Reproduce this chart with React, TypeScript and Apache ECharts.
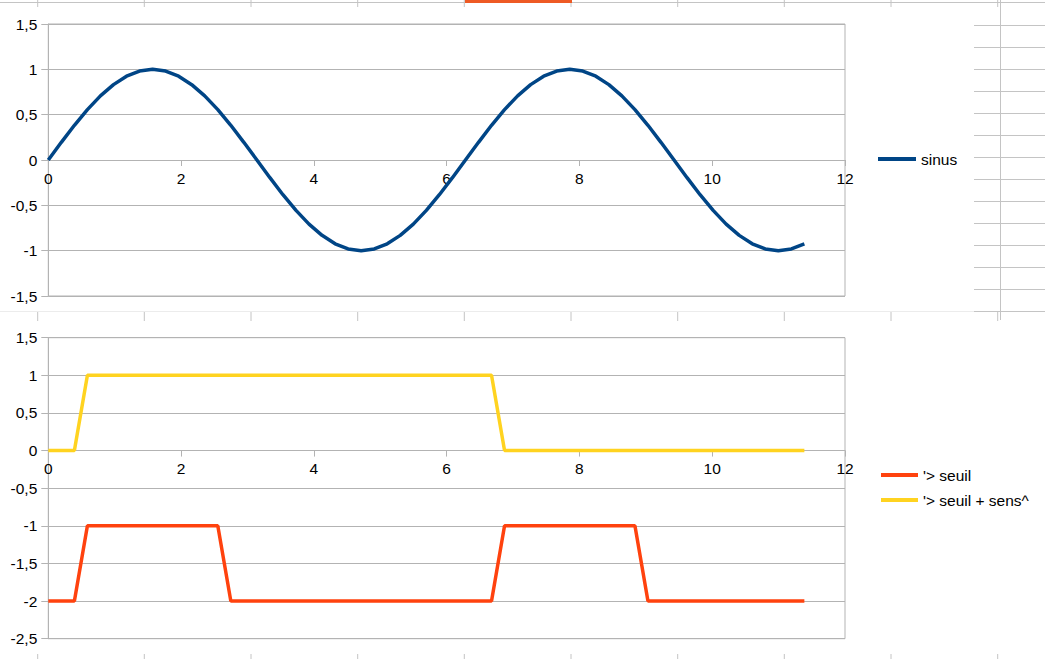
import React, { useEffect, useRef } from "react";
import * as echarts from "echarts";

const xValues = [
  0, 0.196, 0.393, 0.589, 0.785, 0.982, 1.178, 1.374, 1.571, 1.767, 1.963, 2.16, 2.356, 2.553, 2.749, 2.945,
  3.142, 3.338, 3.534, 3.731, 3.927, 4.123, 4.32, 4.516, 4.712, 4.909, 5.105, 5.301, 5.498, 5.694, 5.89, 6.087,
  6.283, 6.48, 6.676, 6.872, 7.069, 7.265, 7.461, 7.658, 7.854, 8.05, 8.247, 8.443, 8.639, 8.836, 9.032, 9.228,
  9.425, 9.621, 9.817, 10.014, 10.21, 10.407, 10.603, 10.799, 10.996, 11.192, 11.388,
];

const sinus = [
  0, 0.195, 0.383, 0.556, 0.707, 0.831, 0.924, 0.981, 1, 0.981, 0.924, 0.831, 0.707, 0.556, 0.383, 0.195,
  0, -0.195, -0.383, -0.556, -0.707, -0.831, -0.924, -0.981, -1, -0.981, -0.924, -0.831, -0.707, -0.556, -0.383, -0.195,
  0, 0.195, 0.383, 0.556, 0.707, 0.831, 0.924, 0.981, 1, 0.981, 0.924, 0.831, 0.707, 0.556, 0.383, 0.195,
  0, -0.195, -0.383, -0.556, -0.707, -0.831, -0.924, -0.981, -1, -0.981, -0.924,
];

const seuil = [
  -2, -2, -2,
  -1, -1, -1, -1, -1, -1, -1, -1, -1, -1, -1,
  -2, -2, -2, -2, -2, -2, -2, -2, -2, -2, -2, -2, -2, -2, -2, -2, -2, -2, -2, -2, -2,
  -1, -1, -1, -1, -1, -1, -1, -1, -1, -1, -1,
  -2, -2, -2, -2, -2, -2, -2, -2, -2, -2, -2, -2, -2,
];

const seuilSens = [
  0, 0, 0,
  1, 1, 1, 1, 1, 1, 1, 1, 1, 1, 1, 1, 1, 1, 1, 1, 1, 1, 1, 1, 1, 1, 1, 1, 1, 1, 1, 1, 1, 1, 1, 1,
  0, 0, 0, 0, 0, 0, 0, 0, 0, 0, 0, 0, 0, 0, 0, 0, 0, 0, 0, 0, 0, 0, 0, 0,
];

const SERIES_NAMES = ["sinus", "'> seuil", "'> seuil + sens^"];
const COLORS = ["#004586", "#ff420e", "#ffd320"];

const FONT = "Liberation Sans";
const FS = 15.5;
const GRID_COLOR = "#b3b3b3";

const fmt = (v: number) => String(v).replace(".", ",");

function pairs(ys: number[]) {
  return ys.map((y, i) => [xValues[i], y]);
}

function sheetGraphics() {
  const els: any[] = [];
  const cols = [37.7, 144.3, 251, 357.7, 464.3, 571, 677.7, 784.3, 891, 997.7];
  const stroke = { stroke: "#c4c4c4", lineWidth: 1 };
  els.push({ type: "line", shape: { x1: 0, y1: 2.5, x2: 1045, y2: 2.5 }, style: stroke, z: -10 });
  els.push({ type: "rect", shape: { x: 465, y: 0, width: 107, height: 3 }, style: { fill: "#ee5a24" }, z: -9 });
  cols.forEach((x) => {
    els.push({ type: "line", shape: { x1: x, y1: 0, x2: x, y2: 7 }, style: stroke, z: -10 });
    els.push({ type: "line", shape: { x1: x, y1: 312, x2: x, y2: 321 }, style: stroke, z: -10 });
    els.push({ type: "line", shape: { x1: x, y1: 654, x2: x, y2: 659 }, style: stroke, z: -10 });
  });
  els.push({ type: "line", shape: { x1: 0, y1: 311.5, x2: 974, y2: 311.5 }, style: { stroke: "#ececec", lineWidth: 1 }, z: -10 });
  els.push({ type: "line", shape: { x1: 1000.5, y1: 0, x2: 1000.5, y2: 320 }, style: stroke, z: -10 });
  for (let k = 0; k < 14; k++) {
    const y = 25.5 + 22 * k;
    els.push({ type: "line", shape: { x1: 974, y1: y, x2: 1045, y2: y }, style: stroke, z: -10 });
  }
  return els;
}

// grid geometry
const G1 = { left: 48.3, top: 24, width: 796.7, height: 272 };
const G2 = { left: 48.3, top: 337.7, width: 796.7, height: 301 };

export default function App() {
  const ref = useRef<HTMLDivElement>(null);

  useEffect(() => {
    if (!ref.current) return;
    const chart = echarts.init(ref.current, null, { renderer: "svg" });

    // distance from the bottom edge of the grid to the zero line (negative offset = inward)
    const zeroOffset = (h: number, min: number, max: number) => -(h * (0 - min)) / (max - min);

    const xAxisBase = (gridIndex: number, offset: number) => ({
      type: "value",
      gridIndex,
      min: 0,
      max: 12,
      interval: 2,
      position: "bottom",
      offset,
      axisLine: { show: true, onZero: false, lineStyle: { color: GRID_COLOR, width: 1 } },
      axisTick: { show: true, inside: false, length: 6, lineStyle: { color: GRID_COLOR } },
      axisLabel: { color: "#000", fontFamily: FONT, fontSize: FS, margin: 10, formatter: fmt },
      splitLine: { show: false },
    });

    const yAxisBase = (gridIndex: number, min: number, max: number) => ({
      type: "value",
      gridIndex,
      min,
      max,
      interval: 0.5,
      axisLine: { show: true, onZero: false, lineStyle: { color: GRID_COLOR, width: 1 } },
      axisTick: { show: true, length: 7, lineStyle: { color: GRID_COLOR } },
      axisLabel: { color: "#000", fontFamily: FONT, fontSize: FS, margin: 11, formatter: fmt },
      splitLine: { show: true, lineStyle: { color: GRID_COLOR, width: 1 } },
    });

    const lineSeries = (idx: number, xIdx: number, data: number[]) => ({
      type: "line",
      name: SERIES_NAMES[idx],
      xAxisIndex: xIdx,
      yAxisIndex: xIdx,
      data: pairs(data),
      showSymbol: false,
      symbol: "none",
      lineStyle: { color: COLORS[idx], width: 3.5 },
      itemStyle: { color: COLORS[idx] },
      z: 5,
    });

    const legendText = { color: "#000", fontFamily: FONT, fontSize: FS };

    chart.setOption({
      animation: false,
      backgroundColor: "#fff",
      textStyle: { fontFamily: FONT },
      grid: [
        { ...G1, show: true, borderColor: GRID_COLOR, borderWidth: 1, backgroundColor: "transparent" },
        { ...G2, show: true, borderColor: GRID_COLOR, borderWidth: 1, backgroundColor: "transparent" },
      ],
      xAxis: [
        xAxisBase(0, zeroOffset(G1.height, -1.5, 1.5)),
        xAxisBase(1, zeroOffset(G2.height, -2.5, 1.5)),
      ],
      yAxis: [yAxisBase(0, -1.5, 1.5), yAxisBase(1, -2.5, 1.5)],
      legend: [
        {
          left: 878,
          top: 151,
          padding: 0,
          orient: "vertical",
          icon: "rect",
          itemWidth: 38,
          itemHeight: 4,
          textStyle: legendText,
          data: [SERIES_NAMES[0]],
          selectedMode: false,
        },
        {
          left: 881,
          top: 467,
          padding: 0,
          orient: "vertical",
          icon: "rect",
          itemWidth: 37,
          itemHeight: 4,
          itemGap: 9,
          textStyle: legendText,
          data: [SERIES_NAMES[1], SERIES_NAMES[2]],
          selectedMode: false,
        },
      ],
      graphic: sheetGraphics(),
      series: [
        lineSeries(0, 0, sinus),
        lineSeries(1, 1, seuil),
        lineSeries(2, 1, seuilSens),
      ],
    });

    return () => chart.dispose();
  }, []);

  return (
    <div
      ref={ref}
      style={{ position: "fixed", left: 0, top: 0, width: 1045, height: 659 }}
    />
  );
}
